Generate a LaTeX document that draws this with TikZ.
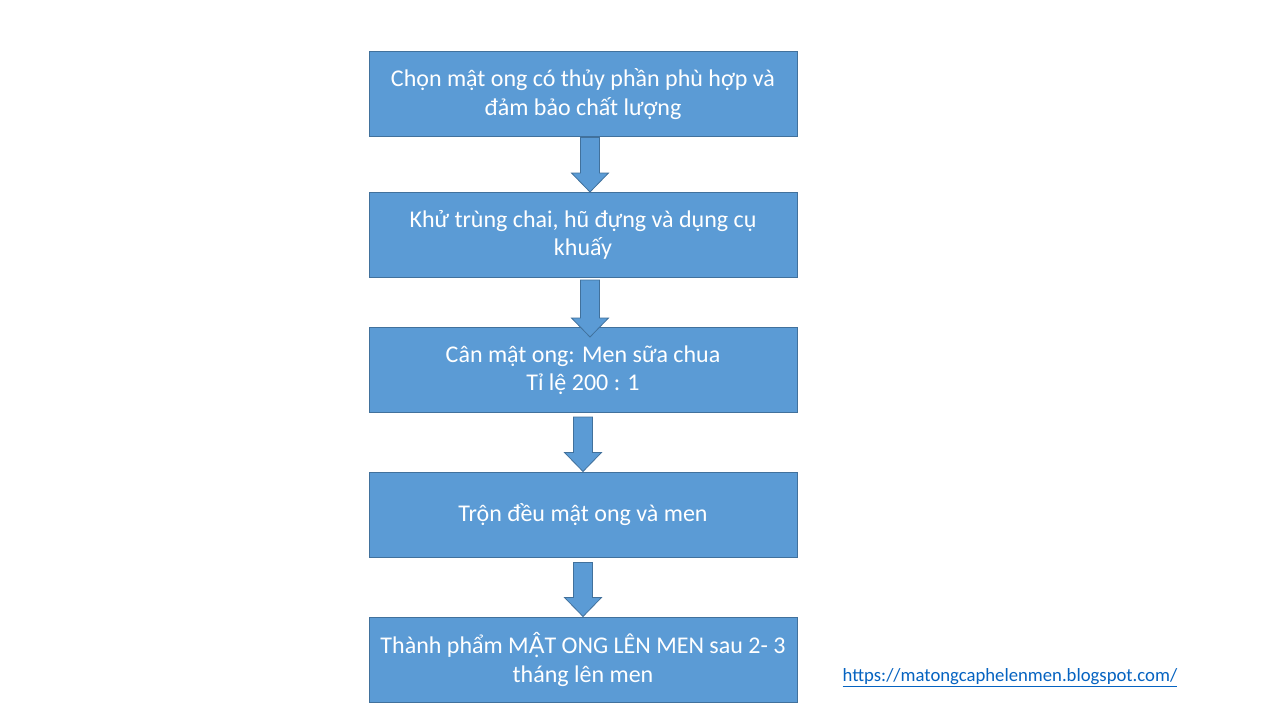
\documentclass[tikz,border=0pt]{standalone}
\usepackage{fontspec}
\setmainfont{Carlito}
\newfontfamily\latofont[Scale=0.97]{Lato}
\usetikzlibrary{calc}
\definecolor{boxfill}{HTML}{5B9BD5}
\definecolor{boxline}{HTML}{41719C}
\definecolor{linkblue}{HTML}{0563C1}
\tikzset{
  stepbox/.style={draw=boxline, line width=1pt, fill=boxfill, text=white,
    minimum width=428pt, minimum height=85pt, inner sep=0pt, align=center,
    font=\fontsize{24}{28.5}\selectfont},
  blockarr/.style={draw=boxline, line width=0.8pt, fill=boxfill, line join=miter}
}
\newcommand\blockarrow[2]{%
  \path[blockarr] let \p1=(#1), \p2=(#2) in
    (\x1-9.5pt,\y1) -- (\x1+9.5pt,\y1) -- (\x1+9.5pt,\y2+19pt) -- (\x1+18.5pt,\y2+19pt)
    -- (\x1,\y2) -- (\x1-18.5pt,\y2+19pt) -- (\x1-9.5pt,\y2+19pt) -- cycle;}
\begin{document}
\begin{tikzpicture}[x=1pt,y=-1pt]
\useasboundingbox[fill=white] (0,0) rectangle (1280,720);
\node[stepbox] (b1) at (583,94) {Chọn mật ong có thủy phần phù hợp và\\đảm bảo chất lượng};
\node[stepbox] (b2) at (583,235) {Khử trùng chai, hũ đựng và dụng cụ\\khuấy};
\node[stepbox] (b3) at (583,370) {Cân mật ong: Men sữa chua\\Tỉ lệ 200 : 1};
\node[stepbox] (b4) at (583,514.5) {Trộn đều mật ong và men};
\node[stepbox] (b5) at (583,659.5) {Thành phẩm M{\latofont Ậ}T ONG LÊN MEN sau 2- 3\\tháng lên men};
\coordinate (a1s) at ($(b1.south)+(7,0.5)$);
\coordinate (a1e) at ($(b2.north)+(7,0)$);
\coordinate (a2s) at ($(b2.south)+(7,2)$);
\coordinate (a2e) at ($(b3.north)+(7,10)$);
\coordinate (a3s) at ($(b3.south)+(0,4)$);
\coordinate (a3e) at ($(b4.north)+(0,0)$);
\coordinate (a4s) at ($(b4.south)+(0,5)$);
\coordinate (a4e) at ($(b5.north)+(0,0)$);
\blockarrow{a1s}{a1e}
\blockarrow{a2s}{a2e}
\blockarrow{a3s}{a3e}
\blockarrow{a4s}{a4e}
\node[text=linkblue, font=\fontsize{18.7}{22}\selectfont] (url) at (1010,678) {\underline{https://matongcaphelenmen.blogspot.com/}};
\end{tikzpicture}
\end{document}
